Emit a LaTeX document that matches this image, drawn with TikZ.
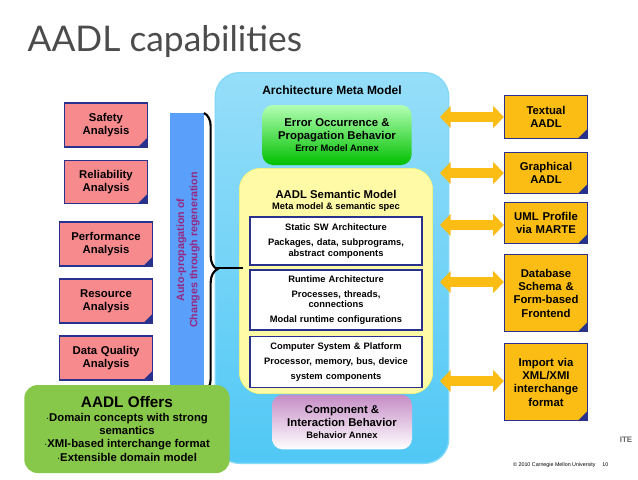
\documentclass[tikz,border=0pt]{standalone}
\usepackage{fontspec}
\setmainfont{Liberation Sans}
\newfontfamily\titlefont{Lato}
\usetikzlibrary{shapes,arrows.meta,decorations.pathreplacing}
\definecolor{pinkbox}{RGB}{246,138,140}
\definecolor{orangebox}{RGB}{251,188,20}
\definecolor{navy}{RGB}{40,50,140}
\definecolor{barblue}{RGB}{90,160,250}
\definecolor{cyanbg}{RGB}{80,200,245}
\definecolor{offergreen}{RGB}{135,200,75}
\definecolor{txtpurple}{RGB}{150,40,130}
\begin{document}
\begin{tikzpicture}[
        x=0.75pt, y=-0.75pt,
        every node/.style = {font=\bfseries\fontsize{8.5}{10}\selectfont, align=center, inner sep=1pt},
        dog/.style = {draw=navy, line width=1.2pt, minimum width=#1, text width=#1-4pt,
          path picture={\fill[navy] ([xshift=-7pt]path picture bounding box.south east) -- (path picture bounding box.south east) -- ([yshift=7pt]path picture bounding box.south east) -- cycle;}},
        pinkdog/.style = {dog=62pt, fill=pinkbox},
        orangedog/.style = {dog=62pt, fill=orangebox},
        inner/.style = {draw=navy, line width=1pt, fill=white, minimum width=129pt, text width=127pt},
        link/.style = {{Triangle[width=16pt,length=8pt]}-{Triangle[width=16pt,length=8pt]}, line width=7pt, draw=orangebox}]
      \useasboundingbox (0,0) rectangle (638,479);
      \fill[white] (0,0) rectangle (638,479);
      \node[font=\titlefont\fontsize{26.5}{30}\selectfont, text=black!70, anchor=west] (title) at (26,42) {AADL capabilities};
      % analyses
      \node[pinkdog, minimum height=33pt] (safety) at (106,125) {Safety\\Analysis};
      \node[pinkdog, minimum height=32pt] (reliab) at (106,182) {Reliability\\Analysis};
      \node[dog=70pt, fill=pinkbox, minimum height=33pt] (perf) at (106,244) {Performance\\Analysis};
      \node[dog=70pt, fill=pinkbox, minimum height=33pt] (resource) at (106,301) {Resource\\Analysis};
      \node[dog=70pt, fill=pinkbox, minimum height=33pt] (dataq) at (106,358) {Data Quality\\Analysis};
      % propagation bar
      \fill[barblue] (170,113) rectangle (204,392);
      \node[rotate=90, text=txtpurple, font=\bfseries\fontsize{8}{10}\selectfont] (autoprop) at (188,250) {Auto-propagation of\\Changes through regeneration};
      % meta model
      \node[draw=cyanbg!70!white, line width=1pt, top color=cyanbg!60!white, bottom color=cyanbg, rounded corners=18pt, minimum width=175pt, minimum height=293pt] (meta) at (332,268) {};
      \node[font=\bfseries\fontsize{9}{10}\selectfont] (metatitle) at (332,90) {Architecture Meta Model};
      \node[top color=green!30!white, bottom color=green!75!black, rounded corners=8pt, minimum width=112pt, minimum height=45pt, font=\bfseries\fontsize{8.5}{10}\selectfont] (error) at (337,135) {Error Occurrence \&\\Propagation Behavior\\[-1pt]{\fontsize{7}{8}\selectfont Error Model Annex}};
      \node[fill=yellow!35, draw=yellow!60, rounded corners=16pt, minimum width=145pt, minimum height=169pt] (semantic) at (336,281) {};
      \node[font=\bfseries\fontsize{8.5}{10}\selectfont] (semtitle) at (336,194) {AADL Semantic Model};
      \node[font=\bfseries\fontsize{7}{8}\selectfont] (semsub) at (336,207) {Meta model \& semantic spec};
      \node[inner, minimum height=36pt, font=\bfseries\fontsize{7}{11}\selectfont] (static) at (336,241) {Static SW Architecture\\Packages, data, subprograms,\\[-3pt]abstract components};
      \node[inner, minimum height=45pt, font=\bfseries\fontsize{7}{11}\selectfont] (runtime) at (336,300) {Runtime Architecture\\Processes, threads,\\[-3pt]connections\\Modal runtime configurations};
      \node[inner, minimum height=38pt, font=\bfseries\fontsize{7}{11}\selectfont] (platform) at (336,362) {Computer System \& Platform\\Processor, memory, bus, device\\system components};
      \node[top color=violet!45, bottom color=white, rounded corners=8pt, minimum width=105pt, minimum height=41pt, font=\bfseries\fontsize{8.5}{10}\selectfont] (behavior) at (342,422) {Component \&\\Interaction Behavior\\[-1pt]{\fontsize{7}{8}\selectfont Behavior Annex}};
      % brace over the bar
      \draw[line width=1.6pt, decorate, decoration={brace, amplitude=10pt, aspect=0.56}] (204,113) -- (204,392);
      \coordinate (bracetip) at (243,268);
      \draw[line width=1.6pt] (216,268) -- (bracetip);
      % representations
      \node[orangedog, minimum height=32pt] (textual) at (546,117) {Textual\\AADL};
      \node[orangedog, minimum height=31pt] (graphical) at (546,173) {Graphical\\AADL};
      \node[orangedog, minimum height=31pt] (uml) at (546,223) {UML Profile\\via MARTE};
      \node[orangedog, minimum height=58pt] (database) at (546,293) {Database\\Schema \&\\Form-based\\Frontend};
      \node[orangedog, minimum height=58pt] (import) at (546,382) {Import via\\XML/XMI\\interchange\\format};
      \foreach \tgt/\yy in {textual/117, graphical/173, uml/225, database/282, import/381} {
        \coordinate (from) at (440,\yy);
        \draw[link] (from) -- (\tgt.west |- from);
      }
      % offers
      \node[fill=offergreen, rounded corners=10pt, minimum width=154pt, minimum height=66pt, font=\bfseries\fontsize{8.5}{10}\selectfont] (offers) at (127,429) {{\fontsize{11.5}{13}\selectfont AADL Offers}\\$\cdot$Domain concepts with strong\\semantics\\$\cdot$XMI-based interchange format\\$\cdot$Extensible domain model};
      % footer
      \node[font=\fontsize{4}{5}\selectfont, anchor=east] (copy) at (610,465) {\textcopyright\ 2010 Carnegie Mellon University \quad 10};
      \node[font=\bfseries\fontsize{6}{7}\selectfont, text=black!60] (ite) at (626,440) {ITE};
\end{tikzpicture}
\end{document}
